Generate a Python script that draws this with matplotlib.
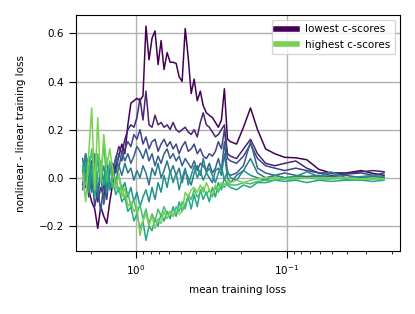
import numpy as np
import matplotlib
matplotlib.use("Agg")
import matplotlib.pyplot as plt

# mean training loss at each logged step (shared by all groups)
mean_loss = [2.256, 2.154, 2.057, 1.965, 1.876, 1.792, 1.711, 1.634, 1.561, 1.491,
             1.423, 1.359, 1.298, 1.240, 1.184, 1.131, 1.080, 1.031, 0.985, 0.940,
             0.898, 0.858, 0.819, 0.782, 0.747, 0.713, 0.681, 0.651, 0.621, 0.593,
             0.567, 0.541, 0.517, 0.494, 0.471, 0.450, 0.430, 0.411, 0.392, 0.374,
             0.358, 0.341, 0.326, 0.311, 0.297, 0.284, 0.271, 0.259, 0.247, 0.236,
             0.215, 0.1935, 0.1738, 0.1561, 0.138, 0.120, 0.1031, 0.0871, 0.0736, 0.0612,
             0.0509, 0.0404, 0.0321, 0.0267, 0.0226]

# nonlinear - linear training loss, one list per c-score group (lowest -> highest)
group0 = [0.02, 0.10, -0.05, -0.10, -0.13, -0.21, -0.12, -0.16, -0.19, -0.10,
          -0.02, 0.05, 0.09, 0.14, 0.10, 0.22, 0.31, 0.32, 0.33, 0.32,
          0.34, 0.63, 0.49, 0.58, 0.61, 0.47, 0.57, 0.45, 0.52, 0.48,
          0.48, 0.475, 0.42, 0.40, 0.62, 0.50, 0.35, 0.41, 0.32, 0.36,
          0.30, 0.27, 0.26, 0.25, 0.23, 0.21, 0.24, 0.37, 0.16, 0.15,
          0.14, 0.21, 0.29, 0.20, 0.12, 0.10, 0.085, 0.083, 0.075, 0.035,
          0.02, 0.02, 0.03, 0.018, 0.01]
group1 = [0.05, -0.04, 0.02, 0.07, -0.03, -0.10, -0.04, -0.08, 0.00, 0.06,
          0.03, 0.08, 0.13, 0.10, 0.16, 0.20, 0.22, 0.21, 0.25, 0.33,
          0.24, 0.36, 0.22, 0.21, 0.26, 0.22, 0.23, 0.21, 0.22, 0.20,
          0.23, 0.20, 0.19, 0.20, 0.21, 0.19, 0.18, 0.20, 0.17, 0.23,
          0.27, 0.22, 0.21, 0.19, 0.17, 0.18, 0.20, 0.22, 0.10, 0.09,
          0.08, 0.12, 0.16, 0.10, 0.06, 0.05, 0.06, 0.07, 0.04, 0.02,
          0.02, 0.017, 0.025, 0.03, 0.025]
group2 = [-0.03, 0.06, -0.08, 0.02, -0.12, -0.05, -0.14, -0.02, -0.09, 0.03,
          0.06, 0.02, 0.10, 0.07, 0.12, 0.15, 0.13, 0.18, 0.16, 0.20,
          0.14, 0.17, 0.12, 0.15, 0.16, 0.11, 0.14, 0.16, 0.13, 0.15,
          0.12, 0.14, 0.10, 0.13, 0.15, 0.11, 0.12, 0.14, 0.10, 0.12,
          0.09, 0.08, 0.10, 0.09, 0.11, 0.15, 0.12, 0.20, 0.08, 0.07,
          0.06, 0.09, 0.14, 0.08, 0.05, 0.04, 0.03, 0.04, 0.03, 0.02,
          0.01, 0.015, 0.02, 0.01, 0.02]
group3 = [0.08, -0.02, 0.05, -0.06, 0.10, -0.08, 0.02, -0.11, -0.04, 0.05,
          0.02, 0.09, 0.04, 0.11, 0.07, 0.10, 0.06, 0.09, 0.13, 0.11,
          0.08, 0.12, 0.07, 0.10, 0.05, 0.09, 0.06, 0.10, 0.12, 0.08,
          0.10, 0.07, 0.09, 0.05, 0.08, 0.06, 0.04, 0.07, 0.03, 0.06,
          0.05, 0.03, 0.06, 0.02, 0.04, 0.08, 0.03, 0.15, 0.02, 0.01,
          0.02, 0.05, 0.15, 0.04, 0.02, 0.01, 0.02, 0.01, 0.005, 0.01,
          0.005, 0.01, 0.0, 0.005, 0.0]
group4 = [-0.05, 0.04, 0.09, -0.03, 0.05, -0.07, 0.06, -0.02, 0.08, -0.05,
          0.03, -0.02, 0.05, 0.01, 0.06, 0.02, 0.04, -0.01, 0.03, 0.00,
          0.05, 0.02, -0.03, 0.04, 0.01, 0.06, 0.00, 0.03, 0.07, 0.02,
          0.05, 0.01, 0.04, -0.02, 0.03, 0.00, -0.03, 0.02, 0.05, 0.01,
          0.08, 0.02, 0.00, -0.02, 0.03, 0.04, 0.01, 0.10, 0.00, -0.02,
          0.01, 0.03, 0.08, 0.02, 0.00, 0.01, 0.00, 0.005, 0.0, 0.005,
          0.0, -0.005, 0.0, 0.005, 0.0]
group5 = [0.03, 0.10, -0.04, 0.06, -0.02, 0.08, 0.00, 0.05, -0.06, 0.02,
          0.04, -0.03, 0.01, -0.05, -0.02, -0.08, -0.04, -0.10, -0.06, -0.12,
          -0.08, -0.05, -0.10, -0.04, -0.09, -0.02, -0.06, 0.01, -0.04, 0.03,
          -0.02, 0.02, -0.05, 0.00, 0.04, -0.03, 0.01, 0.05, 0.00, 0.03,
          -0.01, 0.02, 0.04, 0.01, -0.02, 0.02, 0.05, -0.01, 0.03, 0.00,
          -0.01, 0.03, 0.01, 0.0, -0.01, 0.01, 0.0, 0.005, 0.025, 0.005,
          0.025, 0.0, 0.005, 0.01, 0.005]
group6 = [0.00, 0.06, -0.06, 0.04, -0.08, 0.02, 0.07, -0.03, 0.03, -0.05,
          -0.02, -0.07, -0.04, -0.10, -0.08, -0.14, -0.12, -0.18, -0.15, -0.21,
          -0.18, -0.26, -0.20, -0.22, -0.17, -0.20, -0.15, -0.18, -0.14, -0.17,
          -0.12, -0.16, -0.10, -0.14, -0.11, -0.08, -0.13, -0.07, -0.12, -0.05,
          -0.09, -0.06, -0.10, -0.04, -0.08, -0.02, -0.05, 0.00, -0.03, -0.04,
          -0.05, -0.03, -0.04, -0.02, -0.02, -0.01, -0.015, -0.01, -0.02, -0.01,
          -0.015, -0.01, -0.01, -0.015, -0.01]
group7 = [0.05, -0.03, 0.02, 0.12, -0.05, 0.10, 0.01, 0.14, -0.02, 0.07,
          -0.04, 0.00, -0.06, -0.03, -0.09, -0.06, -0.12, -0.09, -0.15, -0.11,
          -0.17, -0.13, -0.19, -0.15, -0.18, -0.13, -0.16, -0.12, -0.15, -0.14,
          -0.16, -0.12, -0.14, -0.10, -0.13, -0.07, -0.09, -0.05, -0.08, -0.06,
          -0.04, -0.07, -0.05, -0.08, -0.04, -0.06, -0.03, -0.04, -0.02, -0.03,
          -0.03, -0.02, -0.025, -0.015, -0.01, -0.01, -0.005, -0.005, 0.0, -0.005,
          -0.005, 0.0, -0.005, -0.005, -0.005]
group8 = [0.02, -0.10, 0.10, 0.29, -0.05, 0.25, -0.02, 0.18, 0.05, 0.12,
          0.03, -0.05, 0.02, -0.08, -0.04, -0.12, -0.10, -0.14, -0.12, -0.24,
          -0.18, -0.15, -0.20, -0.16, -0.21, -0.17, -0.19, -0.14, -0.17, -0.14,
          -0.16, -0.14, -0.15, -0.14, -0.06, -0.08, -0.05, -0.04, -0.06, -0.03,
          -0.06, -0.02, -0.05, -0.07, -0.03, -0.05, -0.02, -0.03, -0.01, -0.02,
          -0.01, -0.02, -0.01, -0.005, 0.0, 0.0, -0.005, 0.0, 0.0, 0.0,
          0.0, 0.0, -0.005, 0.0, -0.005]

groups = [group0, group1, group2, group3, group4, group5, group6, group7, group8]
colors = plt.cm.viridis(np.linspace(0, 0.8, len(groups)))

plt.rcParams['font.size'] = 7.5
fig = plt.figure(figsize=(4.15, 3.14), dpi=100)
ax = fig.add_axes([0.183, 0.2, 0.781, 0.752])

for g, c in zip(groups, colors):
    ax.plot(mean_loss, g, color=c, lw=1.1)

ax.set_xscale('log')
ax.set_xlim(2.5, 0.0177)
ax.set_ylim(-0.305, 0.676)
ax.grid(True, which='major', color='#b0b0b0', lw=1)
ax.tick_params(which='major', length=5)
ax.tick_params(which='minor', length=2.5)
ax.set_xlabel('mean training loss', labelpad=6)
ax.set_ylabel('nonlinear - linear training loss', labelpad=9)

h0, = ax.plot([], [], color=colors[0], lw=4, label='lowest c-scores')
h1, = ax.plot([], [], color=colors[-1], lw=4, label='highest c-scores')
ax.legend(handles=[h0, h1], loc='upper right')

fig.savefig('out.png', dpi=100)
